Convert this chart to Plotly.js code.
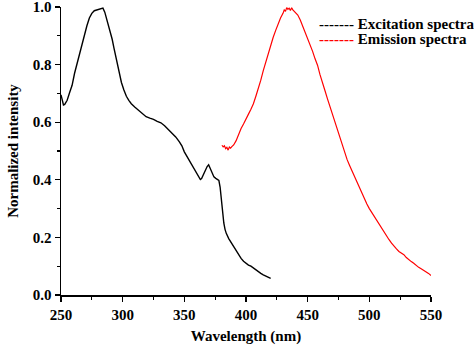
<!DOCTYPE html>
<html>
<head>
<meta charset="utf-8">
<script src="https://cdn.plot.ly/plotly-3.0.1.min.js"></script>
<style>html,body{margin:0;padding:0;background:#fff;}#chart{width:474px;height:345px;}</style>
</head>
<body>
<div id="chart"></div>
<script>
// Excitation spectrum (black)
const excWavelength = [250,251,252,253,255,257,259,261,263,265,267,269,271,273,275,277,279,281,283,284,285.5,287,288.5,290,291.5,293,294.5,296,297.5,299,301,303,305,307,310,313,316,319,322,325,328,331,334,337,340,343,346,348,350,352,354,356,358,360,362,363,364,365.5,367,368.5,369.7,371,372.5,374,375.5,377,378,379,380,381,382,383,384,386,388,390,392,394,396,398,400,402,404,406,408,410,412,414,416,418,420];
const excIntensity = [0.695,0.672,0.660,0.662,0.676,0.703,0.728,0.770,0.805,0.840,0.872,0.905,0.935,0.962,0.978,0.987,0.990,0.993,0.997,0.996,0.982,0.960,0.938,0.912,0.888,0.856,0.828,0.792,0.762,0.738,0.712,0.690,0.676,0.664,0.652,0.640,0.628,0.619,0.614,0.610,0.603,0.598,0.588,0.576,0.563,0.549,0.532,0.518,0.497,0.482,0.466,0.452,0.440,0.423,0.410,0.401,0.404,0.418,0.434,0.446,0.452,0.438,0.420,0.410,0.405,0.402,0.398,0.375,0.330,0.285,0.250,0.228,0.214,0.196,0.182,0.166,0.152,0.140,0.127,0.117,0.109,0.104,0.100,0.093,0.086,0.080,0.075,0.070,0.066,0.061,0.058];

// Emission spectrum (red)
const emWavelength = [380.5,381.5,382.5,383.5,384.5,385.5,386.5,387.5,388.5,390,392,394,396,398,400,402,404,406,408,410,412,414,416,418,420,422,424,426,428,430,431,432,433,434,435,436,437,438,439,440,442,444,446,448,450,452,454,456,458,460,462,464,466,468,470,472,474,476,478,480,482,484,486,488,490,492,494,496,498,500,502,504,506,508,510,512,514,516,518,520,522,524,526,528,530,532,534,536,538,540,542,544,546,548,550];
const emIntensity = [0.520,0.514,0.518,0.508,0.513,0.503,0.514,0.510,0.515,0.521,0.536,0.558,0.578,0.594,0.609,0.628,0.645,0.664,0.690,0.716,0.746,0.779,0.810,0.840,0.870,0.894,0.918,0.942,0.962,0.978,0.990,0.985,0.998,0.992,0.996,0.988,0.997,0.990,0.985,0.982,0.972,0.955,0.934,0.910,0.886,0.866,0.846,0.820,0.798,0.765,0.740,0.710,0.682,0.655,0.628,0.600,0.574,0.548,0.520,0.494,0.470,0.450,0.430,0.410,0.390,0.370,0.350,0.335,0.316,0.300,0.286,0.275,0.260,0.246,0.230,0.216,0.205,0.192,0.180,0.168,0.160,0.151,0.145,0.140,0.130,0.122,0.116,0.110,0.102,0.096,0.091,0.086,0.080,0.075,0.068];

const xTickVals = [250,300,350,400,450,500,550];
const yTickVals = [0.0,0.2,0.4,0.6,0.8,1.0];
const yTickText = ['0.0','0.2','0.4','0.6','0.8','1.0'];
const legendLabels = ['Excitation spectra','Emission spectra'];
const seriesColors = ['#000000','#ff0000'];

const FONT = 'Liberation Serif, Times New Roman, serif';

const traces = [
  {x: excWavelength, y: excIntensity, type: 'scatter', mode: 'lines', name: legendLabels[0],
   line: {color: seriesColors[0], width: 1.4}, showlegend: false},
  {x: emWavelength, y: emIntensity, type: 'scatter', mode: 'lines', name: legendLabels[1],
   line: {color: seriesColors[1], width: 1.2}, showlegend: false}
];

const axisCommon = {
  showline: true, linecolor: '#000', linewidth: 1.5, mirror: false,
  showgrid: false, zeroline: false,
  ticks: 'outside', ticklen: 5, tickwidth: 1.3, tickcolor: '#000',
  ticklabeloverflow: 'allow',
  tickfont: {family: FONT, size: 15, color: '#000', weight: 'bold'}
};

const layout = {
  width: 474, height: 345,
  margin: {l: 61, r: 43, t: 7, b: 50},
  paper_bgcolor: '#fff', plot_bgcolor: '#fff',
  showlegend: false,
  xaxis: Object.assign({}, axisCommon, {
    range: [250, 550], tickvals: xTickVals,
    minor: {dtick: 25, tick0: 250, ticks: 'outside', ticklen: 3, tickwidth: 1.2, tickcolor: '#000'},
    title: {text: 'Wavelength (nm)', font: {family: FONT, size: 15, color: '#000', weight: 'bold'}, standoff: 14}
  }),
  yaxis: Object.assign({}, axisCommon, {
    range: [0, 1.0], tickvals: yTickVals, ticktext: yTickText,
    minor: {dtick: 0.1, tick0: 0, ticks: 'outside', ticklen: 3, tickwidth: 1.2, tickcolor: '#000'},
    title: {text: 'Normalized intensity', font: {family: FONT, size: 15, color: '#000', weight: 'bold'}, standoff: 10}
  }),
  annotations: legendLabels.map((lab, i) => ({
    xref: 'paper', yref: 'paper', x: 0.692, y: i === 0 ? 0.94 : 0.888,
    xanchor: 'left', yanchor: 'middle', showarrow: false,
    text: '<b><span style="color:' + seriesColors[i] + '">-------</span> ' + lab + '</b>',
    font: {family: FONT, size: 15, color: '#000', weight: 'bold'}
  }))
};

Plotly.newPlot('chart', traces, layout, {staticPlot: true, displayModeBar: false});
</script>
</body>
</html>
